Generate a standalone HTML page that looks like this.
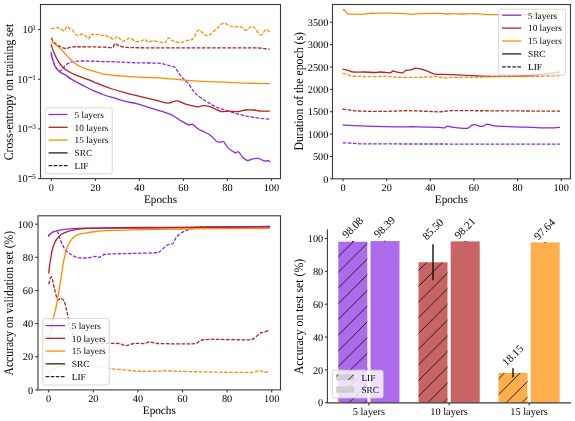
<!DOCTYPE html>
<html><head><meta charset="utf-8"><style>
html,body{margin:0;padding:0;background:#fff;}
svg{display:block;will-change:transform;}
text{font-family:"Liberation Serif",serif;fill:#000;text-rendering:geometricPrecision;}
</style></head><body>
<svg width="575" height="421" viewBox="0 0 575 421">
<rect width="575" height="421" fill="#fff"/>
<path d="M51.10,52.80 C51.35,53.98 51.90,57.58 52.60,59.90 C53.32,62.27 54.22,64.98 55.40,67.00 C56.51,68.90 58.03,70.68 59.70,72.00 C61.37,73.32 63.59,73.77 65.40,74.90 C67.30,76.08 69.07,77.89 71.10,79.10 C74.00,80.83 79.07,83.37 82.80,85.30 C86.35,87.14 89.93,89.08 93.50,90.70 C97.00,92.29 100.63,93.75 104.20,95.00 C107.71,96.23 111.33,97.13 114.90,98.20 C118.47,99.27 122.03,100.50 125.60,101.40 C129.13,102.29 132.77,102.71 136.30,103.60 C139.87,104.50 143.44,105.72 147.00,106.80 C150.95,108.00 155.70,109.35 160.00,110.80 C164.30,112.25 169.30,113.82 172.80,115.50 C175.75,116.92 178.27,119.32 181.00,120.90 C183.64,122.43 187.30,124.45 189.20,125.00 C190.26,125.31 191.37,123.82 192.40,124.20 C193.62,124.65 195.04,126.66 196.50,127.70 C198.07,128.82 199.98,129.92 201.80,130.90 C204.07,132.12 207.67,133.27 210.10,135.00 C212.52,136.72 214.83,140.07 216.40,141.30 C217.26,141.98 218.41,142.34 219.50,142.40 C220.72,142.47 222.50,140.95 223.70,141.70 C225.08,142.57 226.08,145.94 227.80,147.60 C229.72,149.45 233.45,152.10 235.20,152.80 C236.21,153.20 237.38,151.22 238.30,151.80 C239.68,152.67 241.93,156.55 243.50,158.00 C244.70,159.11 246.30,160.32 247.70,160.50 C249.10,160.68 250.45,159.39 251.90,159.10 C253.63,158.75 256.37,158.23 258.10,158.40 C259.60,158.54 261.08,159.65 262.30,160.10 C263.32,160.48 264.53,161.03 265.40,161.10 C266.13,161.16 266.78,160.39 267.50,160.50 C268.30,160.62 269.75,161.58 270.20,161.80" fill="none" stroke="#8A2BE2" stroke-width="1.3" stroke-linejoin="round" opacity="1"/>
<path d="M51.10,52.10 C51.47,53.63 52.47,58.70 53.30,61.30 C54.01,63.52 55.03,66.08 56.10,67.70 C57.00,69.06 58.63,70.75 59.70,71.00 C60.77,71.25 61.72,69.98 62.50,69.20 C63.45,68.25 64.20,66.37 65.40,65.30 C66.60,64.23 68.16,63.42 69.70,62.80 C71.37,62.13 73.45,61.51 75.40,61.30 C78.25,61.00 83.00,60.96 86.80,61.00 C91.55,61.05 99.22,61.47 103.90,61.60 C107.57,61.70 111.24,61.66 114.90,61.80 C120.30,62.00 129.16,62.56 136.30,62.80 C143.82,63.05 154.87,62.92 160.00,63.30 C162.43,63.48 164.73,64.50 167.10,65.10 C169.48,65.70 172.52,65.82 174.30,66.90 C175.97,67.91 176.63,70.04 177.80,71.60 C178.98,73.18 180.20,74.92 181.40,76.40 C182.54,77.81 183.82,79.32 185.00,80.50 C186.09,81.59 187.54,82.30 188.50,83.50 C189.68,84.98 190.92,87.72 192.10,89.40 C193.15,90.89 194.27,92.35 195.60,93.60 C197.18,95.08 199.51,96.85 201.60,98.30 C203.88,99.88 206.97,101.68 209.30,103.10 C211.38,104.36 213.35,105.86 215.60,106.80 C218.78,108.13 224.12,109.75 228.40,111.10 C232.68,112.45 237.02,113.83 241.30,114.90 C245.52,115.95 249.80,116.85 254.10,117.50 C258.83,118.22 267.10,118.92 269.70,119.20" fill="none" stroke="#8A2BE2" stroke-width="1.3" stroke-dasharray="3.6,1.5" stroke-linejoin="round" opacity="1"/>
<path d="M51.10,44.20 C51.58,45.63 52.83,50.01 54.00,52.80 C55.20,55.65 56.88,58.93 58.30,61.30 C59.51,63.33 60.85,65.33 62.50,67.00 C64.15,68.67 66.17,70.06 68.20,71.30 C70.35,72.62 72.93,73.86 75.40,74.90 C78.50,76.20 83.78,77.95 86.80,79.10 C89.05,79.96 91.27,80.89 93.50,81.80 C96.40,82.98 101.35,85.08 104.20,86.20 C106.31,87.03 108.44,87.82 110.60,88.50 C114.17,89.62 120.57,91.56 125.60,92.90 C131.67,94.52 141.27,96.78 147.00,98.20 C151.33,99.27 156.40,100.58 160.00,101.40 C162.85,102.05 165.75,103.20 168.60,103.10 C171.45,103.00 174.25,100.62 177.10,100.80 C179.95,100.98 182.74,103.33 185.70,104.20 C189.08,105.20 194.55,106.55 197.40,106.80 C199.23,106.96 200.96,105.76 202.80,105.70 C204.77,105.63 207.16,105.75 209.20,106.40 C212.23,107.37 217.80,110.72 221.00,111.50 C223.40,112.09 225.93,111.10 228.40,111.10 C231.42,111.10 236.23,111.68 239.10,111.50 C241.32,111.36 243.39,110.22 245.60,110.00 C248.10,109.75 251.62,109.82 254.10,110.00 C256.26,110.16 258.34,110.95 260.50,111.10 C263.10,111.28 268.17,111.10 269.70,111.10" fill="none" stroke="#B22222" stroke-width="1.3" stroke-linejoin="round" opacity="1"/>
<path d="M51.10,37.80 C51.70,38.63 53.50,41.48 54.70,42.80 C55.74,43.94 56.94,44.98 58.30,45.70 C60.08,46.65 63.03,48.32 65.40,48.50 C67.77,48.68 70.07,46.89 72.50,46.80 C78.92,46.57 97.20,47.00 103.90,47.10 C106.83,47.14 110.87,47.98 112.70,47.40 C114.09,46.96 113.85,43.88 114.90,43.60 C115.95,43.32 117.55,45.19 119.00,45.70 C120.78,46.33 123.33,47.28 125.60,47.40 C132.43,47.77 148.53,47.86 160.00,47.90 C181.78,47.98 238.02,47.67 256.30,47.90 C260.79,47.96 267.47,49.07 269.70,49.30" fill="none" stroke="#B22222" stroke-width="1.3" stroke-dasharray="3.6,1.5" stroke-linejoin="round" opacity="1"/>
<path d="M51.10,41.40 C52.05,42.12 55.02,44.28 56.80,45.70 C58.50,47.05 60.25,48.37 61.80,49.90 C63.47,51.55 65.07,53.76 66.80,55.60 C68.58,57.50 70.44,59.58 72.50,61.30 C74.63,63.08 77.22,64.98 79.60,66.30 C81.86,67.55 84.42,68.37 86.80,69.20 C89.13,70.01 91.53,70.61 93.90,71.30 C96.75,72.13 100.50,73.52 103.90,74.20 C107.40,74.90 111.28,75.17 114.90,75.50 C118.46,75.83 122.03,75.98 125.60,76.20 C130.95,76.53 141.27,77.22 147.00,77.50 C151.33,77.71 155.68,77.60 160.00,77.90 C165.73,78.30 174.27,79.32 181.40,79.90 C188.53,80.48 195.67,81.03 202.80,81.40 C209.93,81.77 217.07,81.82 224.20,82.10 C231.33,82.38 238.46,82.86 245.60,83.10 C253.18,83.35 265.68,83.52 269.70,83.60" fill="none" stroke="#FF8C00" stroke-width="1.3" stroke-linejoin="round" opacity="1"/>
<path d="M51.10,28.60 C52.30,28.47 56.40,27.57 58.30,27.80 C59.87,27.99 61.43,29.52 62.50,30.00 C63.20,30.32 64.11,31.19 64.70,30.70 C65.42,30.10 65.97,26.75 66.80,26.40 C67.63,26.05 68.75,28.00 69.70,28.60 C70.58,29.16 71.76,29.26 72.50,30.00 C73.45,30.95 74.33,33.40 75.40,34.30 C76.33,35.09 77.83,35.45 78.90,35.40 C79.97,35.35 80.85,34.07 81.80,34.00 C82.75,33.93 83.77,34.48 84.60,35.00 C85.43,35.52 86.08,36.52 86.80,37.10 C87.45,37.63 88.20,38.97 88.90,38.50 C89.60,38.03 89.93,34.88 91.00,34.30 C92.07,33.72 94.10,35.00 95.30,35.00 C96.29,35.00 97.21,34.19 98.20,34.30 C99.27,34.42 100.75,35.58 101.70,35.70 C102.46,35.79 103.14,34.85 103.90,35.00 C105.20,35.25 107.85,36.48 109.50,37.20 C110.96,37.84 112.55,39.42 113.80,39.30 C115.05,39.18 115.93,36.50 117.00,36.50 C118.07,36.50 119.13,38.48 120.20,39.30 C121.21,40.08 122.33,41.40 123.40,41.40 C124.47,41.40 125.42,39.80 126.60,39.30 C127.87,38.77 129.57,37.85 131.00,38.20 C132.43,38.55 133.62,40.87 135.20,41.40 C136.78,41.93 138.90,41.75 140.50,41.40 C142.06,41.06 143.55,39.20 144.80,39.30 C146.05,39.40 146.63,41.76 148.00,42.00 C149.43,42.25 151.56,40.78 153.40,40.80 C155.40,40.82 158.02,41.82 160.00,42.10 C161.75,42.35 163.87,43.22 165.30,42.50 C166.73,41.78 167.35,38.08 168.60,37.80 C169.85,37.52 171.20,40.16 172.80,40.80 C174.75,41.58 177.80,42.57 180.30,42.50 C182.80,42.43 185.65,41.03 187.80,40.40 C189.61,39.87 191.84,40.01 193.20,38.70 C194.98,36.98 196.20,30.60 198.50,30.10 C200.80,29.60 204.15,35.77 207.00,35.70 C209.85,35.63 212.92,31.77 215.60,29.70 C218.20,27.69 220.42,23.83 223.10,23.30 C225.78,22.77 228.71,25.87 231.70,26.50 C234.73,27.13 238.98,26.50 241.30,27.10 C242.99,27.54 243.85,30.19 245.60,30.10 C247.55,30.00 250.52,25.68 253.00,26.50 C255.48,27.32 258.35,34.47 260.50,35.00 C262.65,35.53 264.37,30.23 265.90,29.70 C267.27,29.22 269.07,31.45 269.70,31.80" fill="none" stroke="#FF8C00" stroke-width="1.3" stroke-dasharray="3.6,1.5" stroke-linejoin="round" opacity="1"/>
<rect x="40.5" y="4.5" width="240.0" height="174.1" fill="none" stroke="#3a3a3a" stroke-width="1.1"/>
<line x1="38" y1="29.5" x2="40.5" y2="29.5" stroke="#3a3a3a" stroke-width="1.1"/>
<text x="33.0" y="32.9" font-size="10.5" text-anchor="end">10</text>
<text x="35.8" y="29.80" font-size="7.2" text-anchor="end">1</text>
<line x1="38" y1="79.2" x2="40.5" y2="79.2" stroke="#3a3a3a" stroke-width="1.1"/>
<text x="27.8" y="82.60000000000001" font-size="10.5" text-anchor="end">10</text>
<rect x="28.3" y="76.90" width="4.1" height="0.75" fill="#000"/>
<text x="35.8" y="79.50" font-size="7.2" text-anchor="end">1</text>
<line x1="38" y1="128.9" x2="40.5" y2="128.9" stroke="#3a3a3a" stroke-width="1.1"/>
<text x="27.8" y="132.3" font-size="10.5" text-anchor="end">10</text>
<rect x="28.3" y="126.60" width="4.1" height="0.75" fill="#000"/>
<text x="35.8" y="129.20" font-size="7.2" text-anchor="end">3</text>
<line x1="38" y1="178.60000000000002" x2="40.5" y2="178.60000000000002" stroke="#3a3a3a" stroke-width="1.1"/>
<text x="27.8" y="182.00000000000003" font-size="10.5" text-anchor="end">10</text>
<rect x="28.3" y="176.30" width="4.1" height="0.75" fill="#000"/>
<text x="35.8" y="178.90" font-size="7.2" text-anchor="end">5</text>
<line x1="51.4" y1="178.6" x2="51.4" y2="181.1" stroke="#3a3a3a" stroke-width="1.1"/>
<text x="51.4" y="190.9" font-size="10.3" text-anchor="middle" >0</text>
<line x1="95.4" y1="178.6" x2="95.4" y2="181.1" stroke="#3a3a3a" stroke-width="1.1"/>
<text x="95.4" y="190.9" font-size="10.3" text-anchor="middle" >20</text>
<line x1="139.4" y1="178.6" x2="139.4" y2="181.1" stroke="#3a3a3a" stroke-width="1.1"/>
<text x="139.4" y="190.9" font-size="10.3" text-anchor="middle" >40</text>
<line x1="183.4" y1="178.6" x2="183.4" y2="181.1" stroke="#3a3a3a" stroke-width="1.1"/>
<text x="183.4" y="190.9" font-size="10.3" text-anchor="middle" >60</text>
<line x1="227.4" y1="178.6" x2="227.4" y2="181.1" stroke="#3a3a3a" stroke-width="1.1"/>
<text x="227.4" y="190.9" font-size="10.3" text-anchor="middle" >80</text>
<line x1="271.4" y1="178.6" x2="271.4" y2="181.1" stroke="#3a3a3a" stroke-width="1.1"/>
<text x="271.4" y="190.9" font-size="10.3" text-anchor="middle" >100</text>
<text x="160.5" y="202.7" font-size="11.3" text-anchor="middle" textLength="33" lengthAdjust="spacingAndGlyphs">Epochs</text>
<text transform="translate(13.4,92.0) rotate(-90)" font-size="13" text-anchor="middle" textLength="136.5" lengthAdjust="spacingAndGlyphs">Cross-entropy on training set</text>
<rect x="45.3" y="107.8" width="66.9" height="66.10000000000001" rx="2" fill="#fff" fill-opacity="0.8" stroke="#d4d4d4" stroke-width="0.9"/>
<line x1="48.6" y1="114.5" x2="67.6" y2="114.5" stroke="#8A2BE2" stroke-width="1.3"/>
<text x="74.6" y="117.8" font-size="9.3" text-anchor="start" >5 layers</text>
<line x1="48.6" y1="127.3" x2="67.6" y2="127.3" stroke="#B22222" stroke-width="1.3"/>
<text x="74.6" y="130.6" font-size="9.3" text-anchor="start" >10 layers</text>
<line x1="48.6" y1="140.1" x2="67.6" y2="140.1" stroke="#FF8C00" stroke-width="1.3"/>
<text x="74.6" y="143.4" font-size="9.3" text-anchor="start" >15 layers</text>
<line x1="48.6" y1="152.9" x2="67.6" y2="152.9" stroke="#222" stroke-width="1.3"/>
<text x="74.6" y="156.20000000000002" font-size="9.3" text-anchor="start" >SRC</text>
<line x1="48.6" y1="165.7" x2="67.6" y2="165.7" stroke="#222" stroke-width="1.3" stroke-dasharray="3.6,1.5"/>
<text x="74.6" y="169.0" font-size="9.3" text-anchor="start" >LIF</text>
<path d="M342.70,125.10 C344.48,125.20 349.83,125.56 353.40,125.70 C358.75,125.92 367.67,126.22 374.80,126.40 C381.93,126.58 389.07,126.73 396.20,126.80 C403.33,126.87 410.47,126.70 417.60,126.80 C424.73,126.90 434.55,127.22 439.00,127.40 C440.77,127.47 442.88,128.12 444.30,127.90 C445.51,127.71 446.28,126.21 447.50,126.10 C448.78,125.98 450.47,127.03 452.00,127.20 C455.25,127.57 463.43,128.73 467.00,128.30 C469.45,128.00 470.96,124.91 473.40,124.60 C475.90,124.28 479.68,126.47 482.00,126.40 C483.91,126.34 485.39,124.27 487.30,124.20 C489.43,124.12 492.25,125.67 494.80,125.90 C499.62,126.33 509.07,126.51 516.20,126.80 C524.40,127.13 536.70,127.80 544.00,127.90 C549.34,127.97 557.33,127.48 560.00,127.40" fill="none" stroke="#8A2BE2" stroke-width="1.3" stroke-linejoin="round" opacity="1"/>
<path d="M342.70,142.80 C344.48,142.88 349.83,143.12 353.40,143.30 C356.97,143.48 360.53,143.89 364.10,143.90 C398.53,144.03 527.35,144.07 560.00,144.10" fill="none" stroke="#8A2BE2" stroke-width="1.3" stroke-dasharray="3.6,1.5" stroke-linejoin="round" opacity="1"/>
<path d="M342.70,69.20 C343.58,69.38 346.25,69.84 348.00,70.30 C349.78,70.77 351.52,71.80 353.40,72.00 C356.08,72.28 360.53,71.92 364.10,72.00 C367.67,72.08 371.95,72.50 374.80,72.50 C376.94,72.50 379.06,71.94 381.20,72.00 C383.70,72.07 387.83,73.07 389.80,72.90 C391.04,72.80 391.93,71.15 393.00,71.00 C394.07,70.85 395.10,71.78 396.20,72.00 C397.80,72.32 401.00,73.18 402.60,72.90 C403.95,72.66 404.50,70.76 405.80,70.30 C407.22,69.80 409.50,70.25 411.10,69.90 C412.61,69.57 413.86,68.20 415.40,68.20 C417.55,68.20 421.50,69.18 424.00,69.90 C426.21,70.53 428.62,71.78 430.40,72.50 C431.83,73.07 433.17,74.05 434.70,74.20 C438.30,74.55 446.24,74.38 452.00,74.60 C458.45,74.85 466.27,75.42 473.40,75.70 C480.53,75.98 487.66,76.33 494.80,76.30 C504.23,76.27 519.13,76.22 530.00,75.50 C540.05,74.84 555.00,72.58 560.00,72.00" fill="none" stroke="#B22222" stroke-width="1.3" stroke-linejoin="round" opacity="1"/>
<path d="M342.70,109.00 C344.48,109.28 349.83,110.33 353.40,110.70 C356.95,111.07 360.53,111.12 364.10,111.20 C369.45,111.32 378.37,111.48 385.50,111.40 C392.63,111.32 399.77,110.70 406.90,110.70 C414.03,110.70 422.95,111.22 428.30,111.40 C431.87,111.52 435.43,111.91 439.00,111.80 C442.95,111.68 447.65,110.72 452.00,110.70 C472.17,110.60 542.00,111.12 560.00,111.20" fill="none" stroke="#B22222" stroke-width="1.3" stroke-dasharray="3.6,1.5" stroke-linejoin="round" opacity="1"/>
<path d="M342.70,9.40 C343.15,9.68 344.60,10.40 345.40,11.10 C346.20,11.80 346.46,13.29 347.50,13.60 C349.25,14.12 353.12,14.10 355.90,14.20 C358.66,14.30 361.88,14.35 364.20,14.20 C366.09,14.08 368.00,13.45 369.80,13.30 C371.53,13.16 373.27,13.32 375.00,13.30 C378.68,13.27 386.95,13.05 391.90,13.10 C396.17,13.14 401.50,13.40 404.70,13.60 C406.84,13.73 408.95,14.30 411.10,14.30 C413.95,14.30 418.23,13.72 421.80,13.60 C426.45,13.45 434.72,13.33 439.00,13.40 C441.84,13.44 445.33,13.97 447.50,14.00 C449.01,14.02 450.49,13.60 452.00,13.60 C454.53,13.60 459.13,14.00 462.70,14.00 C466.27,14.00 469.83,13.55 473.40,13.60 C476.97,13.65 480.53,14.14 484.10,14.30 C488.20,14.48 493.36,14.68 498.00,14.70 C505.65,14.73 519.67,14.57 530.00,14.50 C540.00,14.44 555.00,14.33 560.00,14.30" fill="none" stroke="#FF8C00" stroke-width="1.3" stroke-linejoin="round" opacity="1"/>
<path d="M342.70,73.50 C343.23,73.58 344.86,73.70 345.90,74.00 C347.15,74.37 348.69,75.41 350.20,75.70 C352.17,76.08 355.19,76.20 357.70,76.30 C361.80,76.47 370.17,76.73 374.80,76.70 C378.37,76.67 381.93,76.02 385.50,76.10 C389.07,76.18 392.62,77.05 396.20,77.20 C401.55,77.42 410.83,77.48 417.60,77.40 C424.00,77.32 432.53,76.63 436.80,76.70 C438.96,76.73 441.04,77.70 443.20,77.80 C445.73,77.92 449.06,77.44 452.00,77.40 C457.03,77.33 466.27,77.52 473.40,77.40 C480.53,77.28 487.66,76.81 494.80,76.70 C504.23,76.55 519.13,76.67 530.00,76.50 C540.00,76.35 555.00,75.83 560.00,75.70" fill="none" stroke="#FF8C00" stroke-width="1.3" stroke-dasharray="3.6,1.5" stroke-linejoin="round" opacity="1"/>
<rect x="332.5" y="4.5" width="238.0" height="174.3" fill="none" stroke="#3a3a3a" stroke-width="1.1"/>
<line x1="330" y1="178.8" x2="332.5" y2="178.8" stroke="#3a3a3a" stroke-width="1.1"/>
<text x="328.4" y="182.5" font-size="10.3" text-anchor="end" >0</text>
<line x1="330" y1="156.43" x2="332.5" y2="156.43" stroke="#3a3a3a" stroke-width="1.1"/>
<text x="328.4" y="160.13" font-size="10.3" text-anchor="end" >500</text>
<line x1="330" y1="134.06" x2="332.5" y2="134.06" stroke="#3a3a3a" stroke-width="1.1"/>
<text x="328.4" y="137.76" font-size="10.3" text-anchor="end" >1000</text>
<line x1="330" y1="111.69000000000001" x2="332.5" y2="111.69000000000001" stroke="#3a3a3a" stroke-width="1.1"/>
<text x="328.4" y="115.39000000000001" font-size="10.3" text-anchor="end" >1500</text>
<line x1="330" y1="89.32000000000001" x2="332.5" y2="89.32000000000001" stroke="#3a3a3a" stroke-width="1.1"/>
<text x="328.4" y="93.02000000000001" font-size="10.3" text-anchor="end" >2000</text>
<line x1="330" y1="66.95" x2="332.5" y2="66.95" stroke="#3a3a3a" stroke-width="1.1"/>
<text x="328.4" y="70.65" font-size="10.3" text-anchor="end" >2500</text>
<line x1="330" y1="44.58000000000001" x2="332.5" y2="44.58000000000001" stroke="#3a3a3a" stroke-width="1.1"/>
<text x="328.4" y="48.280000000000015" font-size="10.3" text-anchor="end" >3000</text>
<line x1="330" y1="22.210000000000008" x2="332.5" y2="22.210000000000008" stroke="#3a3a3a" stroke-width="1.1"/>
<text x="328.4" y="25.910000000000007" font-size="10.3" text-anchor="end" >3500</text>
<line x1="343.0" y1="178.8" x2="343.0" y2="181.3" stroke="#3a3a3a" stroke-width="1.1"/>
<text x="343.0" y="191.0" font-size="10.3" text-anchor="middle" >0</text>
<line x1="386.64" y1="178.8" x2="386.64" y2="181.3" stroke="#3a3a3a" stroke-width="1.1"/>
<text x="386.64" y="191.0" font-size="10.3" text-anchor="middle" >20</text>
<line x1="430.28" y1="178.8" x2="430.28" y2="181.3" stroke="#3a3a3a" stroke-width="1.1"/>
<text x="430.28" y="191.0" font-size="10.3" text-anchor="middle" >40</text>
<line x1="473.92" y1="178.8" x2="473.92" y2="181.3" stroke="#3a3a3a" stroke-width="1.1"/>
<text x="473.92" y="191.0" font-size="10.3" text-anchor="middle" >60</text>
<line x1="517.56" y1="178.8" x2="517.56" y2="181.3" stroke="#3a3a3a" stroke-width="1.1"/>
<text x="517.56" y="191.0" font-size="10.3" text-anchor="middle" >80</text>
<line x1="561.2" y1="178.8" x2="561.2" y2="181.3" stroke="#3a3a3a" stroke-width="1.1"/>
<text x="561.2" y="191.0" font-size="10.3" text-anchor="middle" >100</text>
<text x="451.3" y="202.7" font-size="11.3" text-anchor="middle" textLength="33" lengthAdjust="spacingAndGlyphs">Epochs</text>
<text transform="translate(302.9,91.3) rotate(-90)" font-size="13" text-anchor="middle" textLength="118.6" lengthAdjust="spacingAndGlyphs">Duration of the epoch (s)</text>
<rect x="498.6" y="9.2" width="66.89999999999998" height="65.89999999999999" rx="2" fill="#fff" fill-opacity="0.8" stroke="#d4d4d4" stroke-width="0.9"/>
<line x1="502.1" y1="15.2" x2="521.3" y2="15.2" stroke="#8A2BE2" stroke-width="1.3"/>
<text x="528" y="18.5" font-size="9.3" text-anchor="start" >5 layers</text>
<line x1="502.1" y1="28.1" x2="521.3" y2="28.1" stroke="#B22222" stroke-width="1.3"/>
<text x="528" y="31.400000000000002" font-size="9.3" text-anchor="start" >10 layers</text>
<line x1="502.1" y1="41.0" x2="521.3" y2="41.0" stroke="#FF8C00" stroke-width="1.3"/>
<text x="528" y="44.3" font-size="9.3" text-anchor="start" >15 layers</text>
<line x1="502.1" y1="53.900000000000006" x2="521.3" y2="53.900000000000006" stroke="#222" stroke-width="1.3"/>
<text x="528" y="57.2" font-size="9.3" text-anchor="start" >SRC</text>
<line x1="502.1" y1="66.8" x2="521.3" y2="66.8" stroke="#222" stroke-width="1.3" stroke-dasharray="3.6,1.5"/>
<text x="528" y="70.1" font-size="9.3" text-anchor="start" >LIF</text>
<path d="M48.70,284.20 C49.05,283.02 50.22,278.05 50.80,277.10 C51.15,276.54 52.00,277.87 52.20,278.50 C52.80,280.40 53.68,285.42 54.40,288.50 C55.06,291.34 55.92,295.10 56.50,297.00 C56.82,298.03 57.23,299.70 57.90,299.90 C58.57,300.10 59.90,298.45 60.50,298.20 C60.81,298.07 61.24,298.19 61.50,298.40 C62.13,298.92 63.76,300.07 64.30,301.30 C65.13,303.20 65.84,306.95 66.50,309.80 C67.20,312.83 67.90,316.45 68.50,319.50 C69.06,322.36 69.47,325.87 70.10,328.10 C70.58,329.79 71.64,331.27 72.30,332.90 C73.02,334.68 73.62,337.22 74.40,338.80 C75.06,340.13 75.93,341.77 77.00,342.40 C78.07,343.03 79.54,342.50 80.80,342.60 C83.22,342.78 87.92,343.42 91.50,343.50 C97.92,343.65 113.60,343.15 119.30,343.50 C121.54,343.64 123.45,345.60 125.70,345.60 C128.20,345.60 131.37,343.82 134.30,343.50 C137.52,343.15 142.52,343.75 145.00,343.50 C146.48,343.35 147.71,342.00 149.20,342.00 C151.37,342.00 155.03,343.40 158.00,343.50 C165.73,343.77 188.47,344.12 195.60,343.60 C197.63,343.45 198.84,340.96 200.80,340.40 C203.23,339.70 207.05,339.44 210.20,339.40 C218.38,339.30 242.60,339.97 249.90,339.80 C251.34,339.77 252.79,339.18 254.00,338.40 C255.73,337.28 258.55,334.15 260.30,333.10 C261.53,332.36 263.13,332.55 264.50,332.10 C266.07,331.58 268.83,330.35 269.70,330.00" fill="none" stroke="#B22222" stroke-width="1.3" stroke-dasharray="3.6,1.5" stroke-linejoin="round" opacity="1"/>
<path d="M48.60,373.40 C49.08,372.83 50.36,370.96 51.50,370.00 C52.65,369.03 54.07,368.20 55.50,367.60 C57.08,366.93 59.13,366.38 61.00,366.00 C62.90,365.62 64.92,365.35 66.90,365.30 C69.80,365.23 74.57,365.50 78.40,365.60 C82.23,365.70 86.07,365.70 89.90,365.90 C93.73,366.10 98.05,366.35 101.40,366.80 C104.30,367.19 107.10,368.21 110.00,368.60 C113.70,369.10 119.55,369.42 123.60,369.80 C127.17,370.14 130.73,370.65 134.30,370.90 C137.86,371.15 141.43,371.27 145.00,371.30 C148.95,371.33 154.78,371.20 158.00,371.10 C160.10,371.03 162.20,370.68 164.30,370.70 C167.78,370.73 174.03,371.15 178.90,371.30 C184.82,371.48 192.85,371.65 199.80,371.80 C206.73,371.95 213.67,372.10 220.60,372.20 C227.55,372.30 236.27,372.37 241.50,372.40 C245.00,372.42 248.87,372.68 252.00,372.40 C254.81,372.15 258.22,370.70 260.30,370.70 C261.81,370.70 262.99,372.34 264.50,372.40 C266.07,372.47 268.83,371.32 269.70,371.10" fill="none" stroke="#FF8C00" stroke-width="1.3" stroke-dasharray="3.6,1.5" stroke-linejoin="round" opacity="1"/>
<path d="M48.30,236.30 C48.70,235.82 49.71,234.17 50.70,233.40 C51.73,232.60 53.40,231.82 54.50,231.50 C55.40,231.24 56.65,230.83 57.30,231.50 C58.08,232.30 58.59,234.69 59.20,236.30 C59.98,238.37 60.88,241.53 62.00,243.90 C63.09,246.21 64.30,248.68 65.90,250.50 C67.47,252.29 69.87,253.68 71.60,254.80 C73.08,255.75 74.61,256.71 76.30,257.20 C78.20,257.75 80.83,258.02 83.00,258.10 C85.10,258.18 87.53,257.98 89.30,257.70 C90.78,257.46 92.15,256.48 93.60,256.40 C95.05,256.32 96.93,257.08 98.00,257.20 C98.66,257.27 99.39,257.36 100.00,257.10 C101.05,256.65 102.67,254.90 104.30,254.50 C106.45,253.97 110.03,254.01 112.90,253.90 C117.90,253.72 127.17,253.64 134.30,253.40 C141.82,253.15 153.33,253.10 158.00,252.40 C159.77,252.13 160.89,250.30 162.30,249.20 C163.90,247.95 165.82,245.87 167.60,244.90 C169.24,244.01 171.59,244.63 173.00,243.40 C174.43,242.15 174.79,239.17 176.20,237.40 C177.62,235.62 179.53,233.95 181.50,232.70 C183.47,231.45 186.03,230.72 188.00,229.90 C189.75,229.17 191.45,228.25 193.30,227.80 C195.30,227.32 197.75,227.04 200.00,227.00 C212.78,226.78 258.33,226.58 270.00,226.50" fill="none" stroke="#8A2BE2" stroke-width="1.3" stroke-dasharray="3.6,1.5" stroke-linejoin="round" opacity="1"/>
<path d="M48.30,236.30 C48.70,235.82 49.71,234.17 50.70,233.40 C51.73,232.60 53.15,231.92 54.50,231.50 C56.55,230.87 60.13,230.05 63.00,229.60 C66.00,229.13 69.33,228.91 72.50,228.70 C76.00,228.47 80.16,228.23 84.00,228.20 C98.25,228.10 138.67,228.23 158.00,228.10 C172.00,228.00 186.00,227.61 200.00,227.40 C218.67,227.12 258.33,226.57 270.00,226.40" fill="none" stroke="#8A2BE2" stroke-width="1.3" stroke-linejoin="round" opacity="1"/>
<path d="M48.70,273.50 C48.83,272.25 49.25,267.92 49.50,266.00 C49.68,264.66 49.98,263.33 50.20,262.00 C50.63,259.42 51.38,253.68 52.10,250.50 C52.68,247.91 53.47,245.12 54.50,242.90 C55.46,240.83 56.88,238.78 58.30,237.20 C59.64,235.70 61.22,234.35 63.00,233.40 C65.05,232.30 67.97,231.19 70.60,230.60 C74.10,229.82 79.51,229.08 84.00,228.70 C89.27,228.25 96.13,228.01 102.20,227.90 C114.53,227.68 139.40,227.49 158.00,227.40 C185.97,227.27 251.33,227.15 270.00,227.10" fill="none" stroke="#B22222" stroke-width="1.3" stroke-linejoin="round" opacity="1"/>
<path d="M48.90,338.60 C48.98,338.28 49.24,337.34 49.40,336.70 C49.80,335.10 50.76,331.59 51.30,329.00 C51.93,325.98 52.45,322.04 53.20,318.60 C54.00,314.93 55.29,310.90 56.10,307.00 C56.98,302.73 57.72,297.52 58.50,293.00 C59.26,288.63 60.13,284.07 60.80,279.90 C61.43,275.94 62.05,270.98 62.50,268.00 C62.80,266.00 63.09,263.99 63.50,262.00 C64.07,259.25 65.03,254.52 65.90,251.50 C66.65,248.91 67.60,246.12 68.70,243.90 C69.72,241.85 71.07,239.72 72.50,238.20 C73.85,236.77 75.49,235.56 77.30,234.80 C79.22,234.00 81.75,233.80 84.00,233.40 C87.08,232.85 91.84,231.91 95.80,231.50 C100.62,231.00 107.19,230.65 112.90,230.40 C119.32,230.12 127.17,229.96 134.30,229.80 C141.82,229.63 150.10,229.52 158.00,229.40 C168.95,229.23 186.00,228.93 200.00,228.80 C218.67,228.63 258.33,228.47 270.00,228.40" fill="none" stroke="#FF8C00" stroke-width="1.3" stroke-linejoin="round" opacity="1"/>
<rect x="38.0" y="215.8" width="242.5" height="174.09999999999997" fill="none" stroke="#3a3a3a" stroke-width="1.1"/>
<line x1="35.2" y1="389.9" x2="38.0" y2="389.9" stroke="#3a3a3a" stroke-width="1.1"/>
<text x="33.1" y="393.59999999999997" font-size="10.3" text-anchor="end" >0</text>
<line x1="35.2" y1="356.76" x2="38.0" y2="356.76" stroke="#3a3a3a" stroke-width="1.1"/>
<text x="33.1" y="360.46" font-size="10.3" text-anchor="end" >20</text>
<line x1="35.2" y1="323.62" x2="38.0" y2="323.62" stroke="#3a3a3a" stroke-width="1.1"/>
<text x="33.1" y="327.32" font-size="10.3" text-anchor="end" >40</text>
<line x1="35.2" y1="290.47999999999996" x2="38.0" y2="290.47999999999996" stroke="#3a3a3a" stroke-width="1.1"/>
<text x="33.1" y="294.17999999999995" font-size="10.3" text-anchor="end" >60</text>
<line x1="35.2" y1="257.34" x2="38.0" y2="257.34" stroke="#3a3a3a" stroke-width="1.1"/>
<text x="33.1" y="261.03999999999996" font-size="10.3" text-anchor="end" >80</text>
<line x1="35.2" y1="224.2" x2="38.0" y2="224.2" stroke="#3a3a3a" stroke-width="1.1"/>
<text x="33.1" y="227.89999999999998" font-size="10.3" text-anchor="end" >100</text>
<line x1="48.7" y1="389.9" x2="48.7" y2="392.4" stroke="#3a3a3a" stroke-width="1.1"/>
<text x="48.7" y="402.3" font-size="10.3" text-anchor="middle" >0</text>
<line x1="93.30000000000001" y1="389.9" x2="93.30000000000001" y2="392.4" stroke="#3a3a3a" stroke-width="1.1"/>
<text x="93.30000000000001" y="402.3" font-size="10.3" text-anchor="middle" >20</text>
<line x1="137.9" y1="389.9" x2="137.9" y2="392.4" stroke="#3a3a3a" stroke-width="1.1"/>
<text x="137.9" y="402.3" font-size="10.3" text-anchor="middle" >40</text>
<line x1="182.5" y1="389.9" x2="182.5" y2="392.4" stroke="#3a3a3a" stroke-width="1.1"/>
<text x="182.5" y="402.3" font-size="10.3" text-anchor="middle" >60</text>
<line x1="227.10000000000002" y1="389.9" x2="227.10000000000002" y2="392.4" stroke="#3a3a3a" stroke-width="1.1"/>
<text x="227.10000000000002" y="402.3" font-size="10.3" text-anchor="middle" >80</text>
<line x1="271.7" y1="389.9" x2="271.7" y2="392.4" stroke="#3a3a3a" stroke-width="1.1"/>
<text x="271.7" y="402.3" font-size="10.3" text-anchor="middle" >100</text>
<text x="159.3" y="414.3" font-size="11.3" text-anchor="middle" textLength="33" lengthAdjust="spacingAndGlyphs">Epochs</text>
<text transform="translate(13.2,303.2) rotate(-90)" font-size="13" text-anchor="middle" textLength="144.6" lengthAdjust="spacingAndGlyphs">Accuracy on validation set (%)</text>
<rect x="42.7" y="318.5" width="66.5" height="66.5" rx="2" fill="#fff" fill-opacity="0.8" stroke="#d4d4d4" stroke-width="0.9"/>
<line x1="45.6" y1="325.6" x2="65.1" y2="325.6" stroke="#8A2BE2" stroke-width="1.3"/>
<text x="71.8" y="328.90000000000003" font-size="9.3" text-anchor="start" >5 layers</text>
<line x1="45.6" y1="338.35" x2="65.1" y2="338.35" stroke="#B22222" stroke-width="1.3"/>
<text x="71.8" y="341.65000000000003" font-size="9.3" text-anchor="start" >10 layers</text>
<line x1="45.6" y1="351.1" x2="65.1" y2="351.1" stroke="#FF8C00" stroke-width="1.3"/>
<text x="71.8" y="354.40000000000003" font-size="9.3" text-anchor="start" >15 layers</text>
<line x1="45.6" y1="363.85" x2="65.1" y2="363.85" stroke="#222" stroke-width="1.3"/>
<text x="71.8" y="367.15000000000003" font-size="9.3" text-anchor="start" >SRC</text>
<line x1="45.6" y1="376.6" x2="65.1" y2="376.6" stroke="#222" stroke-width="1.3" stroke-dasharray="3.6,1.5"/>
<text x="71.8" y="379.90000000000003" font-size="9.3" text-anchor="start" >LIF</text>
<defs><pattern id="hatch" patternUnits="userSpaceOnUse" width="15.7" height="15.7" x="0" y="14.0"><path d="M-1,1 L1,-1 M0,15.7 L15.7,0 M14.7,16.7 L16.7,14.7" stroke="#1a1a1a" stroke-width="0.95"/></pattern><pattern id="hatch2" patternUnits="userSpaceOnUse" width="15.7" height="15.7" x="0" y="6.15"><path d="M-1,1 L1,-1 M0,15.7 L15.7,0 M14.7,16.7 L16.7,14.7" stroke="#1a1a1a" stroke-width="0.95"/></pattern><clipPath id="brclip"><rect x="327" y="200" width="250" height="202.7"/></clipPath></defs>
<rect x="338.3" y="241.7" width="29.0" height="161.0" fill="#AD6BEB"/>
<rect x="338.3" y="241.7" width="29.0" height="161.0" fill="url(#hatch)"/>
<rect x="370.5" y="241.1" width="29.0" height="161.6" fill="#AD6BEB"/>
<line x1="352.79999999999995" y1="240.99584" x2="352.79999999999995" y2="242.30944000000002" stroke="#111" stroke-width="1.4"/>
<line x1="385.0" y1="240.81521999999998" x2="385.0" y2="241.47202000000001" stroke="#111" stroke-width="1.4"/>
<rect x="418.5" y="262.3" width="29.0" height="140.4" fill="#C96464"/>
<rect x="418.5" y="262.3" width="29.0" height="140.4" fill="url(#hatch)"/>
<rect x="450.7" y="241.4" width="29.0" height="161.3" fill="#C96464"/>
<line x1="433.0" y1="244.24699999999999" x2="433.0" y2="280.371" stroke="#111" stroke-width="1.4"/>
<line x1="465.20000000000005" y1="241.11078" x2="465.20000000000005" y2="241.76758" stroke="#111" stroke-width="1.4"/>
<rect x="498.5" y="372.9" width="29.0" height="29.8" fill="#FFAE4C"/>
<rect x="498.5" y="372.9" width="29.0" height="29.8" fill="url(#hatch)"/>
<rect x="530.7" y="242.4" width="29.0" height="160.3" fill="#FFAE4C"/>
<line x1="513.0" y1="368.3001" x2="513.0" y2="377.4953" stroke="#111" stroke-width="1.4"/>
<line x1="545.2" y1="241.88252" x2="545.2" y2="242.86772" stroke="#111" stroke-width="1.4"/>
<line x1="327.4" y1="229.3" x2="327.4" y2="402.9" stroke="#3a3a3a" stroke-width="1.1"/>
<line x1="326.9" y1="402.9" x2="571" y2="402.9" stroke="#3a3a3a" stroke-width="1.1"/>
<line x1="324.9" y1="402.7" x2="327.4" y2="402.7" stroke="#3a3a3a" stroke-width="1.1"/>
<text x="323.2" y="406.4" font-size="10.3" text-anchor="end" >0</text>
<line x1="324.9" y1="369.86" x2="327.4" y2="369.86" stroke="#3a3a3a" stroke-width="1.1"/>
<text x="323.2" y="373.56" font-size="10.3" text-anchor="end" >20</text>
<line x1="324.9" y1="337.02" x2="327.4" y2="337.02" stroke="#3a3a3a" stroke-width="1.1"/>
<text x="323.2" y="340.71999999999997" font-size="10.3" text-anchor="end" >40</text>
<line x1="324.9" y1="304.18" x2="327.4" y2="304.18" stroke="#3a3a3a" stroke-width="1.1"/>
<text x="323.2" y="307.88" font-size="10.3" text-anchor="end" >60</text>
<line x1="324.9" y1="271.34000000000003" x2="327.4" y2="271.34000000000003" stroke="#3a3a3a" stroke-width="1.1"/>
<text x="323.2" y="275.04" font-size="10.3" text-anchor="end" >80</text>
<line x1="324.9" y1="238.5" x2="327.4" y2="238.5" stroke="#3a3a3a" stroke-width="1.1"/>
<text x="323.2" y="242.2" font-size="10.3" text-anchor="end" >100</text>
<line x1="368.9" y1="402.9" x2="368.9" y2="405.4" stroke="#3a3a3a" stroke-width="1.1"/>
<text x="368.9" y="415.0" font-size="10.3" text-anchor="middle" >5 layers</text>
<line x1="449.1" y1="402.9" x2="449.1" y2="405.4" stroke="#3a3a3a" stroke-width="1.1"/>
<text x="449.1" y="415.0" font-size="10.3" text-anchor="middle" >10 layers</text>
<line x1="529.1" y1="402.9" x2="529.1" y2="405.4" stroke="#3a3a3a" stroke-width="1.1"/>
<text x="529.1" y="415.0" font-size="10.3" text-anchor="middle" >15 layers</text>
<text transform="translate(303.0,316.6) rotate(-90)" font-size="13" text-anchor="middle" textLength="115.3" lengthAdjust="spacingAndGlyphs">Accuracy on test set (%)</text>
<text transform="translate(352.7,227.5) rotate(-45)" font-size="11" text-anchor="middle" dy="3.6">98.08</text>
<text transform="translate(384.5,227.0) rotate(-45)" font-size="11" text-anchor="middle" dy="3.6">98.39</text>
<text transform="translate(432.9,229.2) rotate(-45)" font-size="11" text-anchor="middle" dy="3.6">85.50</text>
<text transform="translate(464.9,228.1) rotate(-45)" font-size="11" text-anchor="middle" dy="3.6">98.21</text>
<text transform="translate(512.8,355.3) rotate(-45)" font-size="11" text-anchor="middle" dy="3.6">18.15</text>
<text transform="translate(544.5,229.29999999999998) rotate(-45)" font-size="11" text-anchor="middle" dy="3.6">97.64</text>
<rect x="332.4" y="370.2" width="50.7" height="27.7" rx="2" fill="#fff" fill-opacity="0.8" stroke="#d4d4d4" stroke-width="0.9"/>
<rect x="336.2" y="374.4" width="17.9" height="5.7" fill="#cfcfcf"/>
<rect x="336.2" y="374.4" width="17.9" height="5.7" fill="url(#hatch2)"/>
<rect x="336.2" y="386.4" width="17.9" height="6.3" fill="#cfcfcf"/>
<text x="361.4" y="380.7" font-size="9.3" text-anchor="start" >LIF</text>
<text x="361.4" y="393.0" font-size="9.3" text-anchor="start" >SRC</text>
</svg></body></html>
